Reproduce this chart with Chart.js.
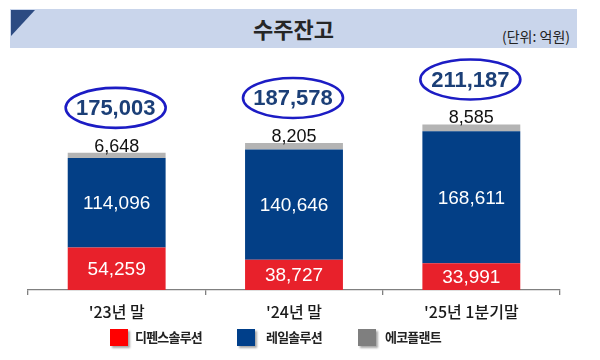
<!DOCTYPE html>
<html>
<head>
<meta charset="utf-8">
<script src="https://cdn.jsdelivr.net/npm/chart.js@4"></script>
<style>
  html, body { margin:0; padding:0; background:#fff; }
  #wrap { position:relative; width:600px; height:360px; overflow:hidden; background:#fff; font-family:"Noto Sans CJK KR","Noto Sans",sans-serif; }
  #band { position:absolute; left:10px; top:9px; width:567px; height:39px; background:#c9d5eb; }
  #tri { position:absolute; left:11px; top:10px; width:24px; height:26px; background:#2c4b82; clip-path:polygon(0 0,100% 0,0 100%); }
  #title { position:absolute; left:10px; top:9px; width:567px; height:39px; line-height:38px; text-align:center; font-size:22px; font-weight:700; color:#262626; }
  #unit { position:absolute; right:30px; top:26px; font-size:14px; line-height:20px; color:#222; }
  #cv { position:absolute; left:0; top:0; }
  .lg { position:absolute; top:329px; height:17px; }
  .lg .bx { position:absolute; left:0; top:0; width:18px; height:17px; box-shadow:2px 2px 2px rgba(0,0,0,0.35); }
  .lg .tx { position:absolute; top:-2px; white-space:nowrap; font-size:13px; font-weight:700; letter-spacing:-0.8px; line-height:20px; color:#222; }
</style>
</head>
<body>
<div id="wrap">
  <div id="band"></div>
  <div id="tri"></div>
  <div id="title">수주잔고</div>
  <div id="unit">(단위: 억원)</div>
  <canvas id="cv" width="600" height="330"></canvas>
  <div id="legend"></div>
</div>
<script>
const categories = ["'23년 말", "'24년 말", "'25년 1분기말"];
const seriesNames = ["디펜스솔루션", "레일솔루션", "에코플랜트"];
const defense = [54259, 38727, 33991];
const rail = [114096, 140646, 168611];
const eco = [6648, 8205, 8585];

const barColors = ["#e8212b", "#033f86", "#b4b4b4"];
const legendColors = ["#ff0000", "#003f8a", "#7f7f7f"];
const legendPos = [{box:110, text:135}, {box:237, text:266}, {box:358, text:385}];

const totals = categories.map((c, i) => defense[i] + rail[i] + eco[i]);
const fmt = v => v.toLocaleString('en-US');

// HTML legend
seriesNames.forEach((n, i) => {
  const d = document.createElement('div');
  d.className = 'lg';
  d.style.left = legendPos[i].box + 'px';
  d.innerHTML = '<div class="bx" style="background:' + legendColors[i] + '"></div>' +
    '<div class="tx" style="left:' + (legendPos[i].text - legendPos[i].box) + 'px">' + n + '</div>';
  document.getElementById('wrap').appendChild(d);
});

const labelPlugin = {
  id: 'labelPlugin',
  afterDatasetsDraw(chart) {
    const ctx = chart.ctx;
    ctx.save();
    chart.data.datasets.forEach((ds, di) => {
      const meta = chart.getDatasetMeta(di);
      meta.data.forEach((bar, i) => {
        const t = fmt(ds.data[i]);
        ctx.textAlign = 'center';
        if (di < 2) {
          ctx.fillStyle = '#ffffff';
          ctx.font = '19px "Liberation Sans", Arial, sans-serif';
          ctx.textBaseline = 'middle';
          ctx.fillText(t, bar.x, (bar.y + bar.base) / 2 + 1);
        } else {
          ctx.fillStyle = '#111111';
          ctx.font = '18px "Liberation Sans", Arial, sans-serif';
          ctx.textBaseline = 'alphabetic';
          ctx.fillText(t, bar.x, bar.y - 1);
        }
      });
    });
    const ys = chart.scales.y;
    const meta0 = chart.getDatasetMeta(0);
    totals.forEach((tot, i) => {
      const x = meta0.data[i].x - 1;
      const cy = ys.getPixelForValue(tot) - 45;
      ctx.beginPath();
      ctx.ellipse(x, cy, 50, 20, 0, 0, Math.PI * 2);
      ctx.lineWidth = 2.6;
      ctx.strokeStyle = '#1c1cc4';
      ctx.stroke();
      ctx.fillStyle = '#1b3f77';
      ctx.font = 'bold 22px "Liberation Sans", Arial, sans-serif';
      ctx.textAlign = 'center';
      ctx.textBaseline = 'middle';
      ctx.fillText(fmt(tot), x, cy + 1);
    });
    ctx.restore();
  }
};

new Chart(document.getElementById('cv'), {
  type: 'bar',
  data: {
    labels: categories,
    datasets: [
      { label: seriesNames[0], data: defense, backgroundColor: barColors[0] },
      { label: seriesNames[1], data: rail, backgroundColor: barColors[1] },
      { label: seriesNames[2], data: eco, backgroundColor: barColors[2] }
    ]
  },
  options: {
    responsive: false,
    animation: false,
    events: [],
    layout: { padding: { left: 28, right: 40, top: 0, bottom: 0 } },
    datasets: { bar: { categoryPercentage: 1, barPercentage: 0.552 } },
    plugins: { legend: { display: false }, tooltip: { enabled: false } },
    scales: {
      x: {
        stacked: true,
        offset: true,
        afterFit: (s) => { s.height = 40; },
        grid: { display: true, drawOnChartArea: false, drawTicks: true, tickLength: 5, color: '#808080', lineWidth: 1.3, offset: true },
        border: { display: true, color: '#808080', width: 1.3 },
        ticks: { color: '#1a1a1a', padding: 7, font: { family: '"Noto Sans CJK KR"', size: 16, weight: '500' } }
      },
      y: {
        stacked: true,
        display: false,
        min: 0,
        max: 370000
      }
    }
  },
  plugins: [labelPlugin]
});
</script>
</body>
</html>
